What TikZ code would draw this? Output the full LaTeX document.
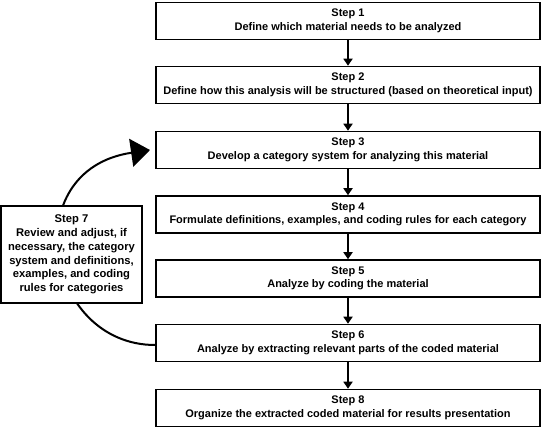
\documentclass[tikz,border=0pt]{standalone}
\usepackage{fontspec}
\setmainfont{Liberation Sans}
\usetikzlibrary{arrows.meta}
\begin{document}
\begin{tikzpicture}[x=1pt,y=-1pt,
  stepbox/.style={draw,line width=1.6pt,fill=white,minimum width=384pt,minimum height=37pt,align=center,font=\bfseries\fontsize{11}{13.5}\selectfont,inner sep=0pt},
  sidebox/.style={draw,line width=1.6pt,fill=white,minimum width=141pt,minimum height=97pt,align=center,font=\bfseries\fontsize{11.2}{13.7}\selectfont,inner sep=0pt},
  flow/.style={line width=2.6pt,-{Triangle[width=9pt,length=7pt]}}]
\useasboundingbox (0,0) rectangle (543,429);
\node[stepbox] (s1) at (348,21) {Step 1\\Define which material needs to be analyzed};
\node[stepbox] (s2) at (348,85) {Step 2\\Define how this analysis will be structured (based on theoretical input)};
\node[stepbox] (s3) at (348,150) {Step 3\\Develop a category system for analyzing this material};
\node[stepbox] (s4) at (348,214.5) {Step 4\\Formulate definitions, examples, and coding rules for each category};
\node[stepbox] (s5) at (348,278.5) {Step 5\\Analyze by coding the material};
\node[stepbox] (s6) at (348,343) {Step 6\\Analyze by extracting relevant parts of the coded material};
\node[stepbox] (s8) at (348,408) {Step 8\\Organize the extracted coded material for results presentation};
\draw[flow] (s1) -- (s2);
\draw[flow] (s2) -- (s3);
\draw[flow] (s3) -- (s4);
\draw[flow] (s4) -- (s5);
\draw[flow] (s5) -- (s6);
\draw[flow] (s6) -- (s8);
\coordinate (tip) at (150,150);
\draw[line width=2pt,-{Triangle[width=28pt,length=19pt]}] ([yshift=-2pt]s6.west) .. controls (45,345) and (15,170) .. (tip);
\node[sidebox] (s7) at (71.5,254.5) {Step 7\\Review and adjust, if\\necessary, the category\\system and definitions,\\examples, and coding\\rules for categories};
\end{tikzpicture}
\end{document}
